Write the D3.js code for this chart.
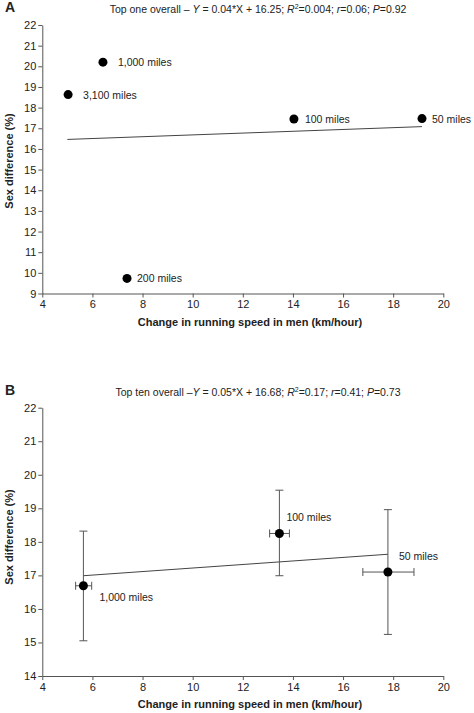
<!DOCTYPE html>
<html>
<head>
<meta charset="utf-8">
<script src="https://cdn.jsdelivr.net/npm/d3@7"></script>
<style>
  body { margin: 0; background: #fff; }
  svg { display: block; font-family: "Liberation Sans", Arial, sans-serif; }
</style>
</head>
<body>
<svg id="chart" width="474" height="713"></svg>
<script>
// panel A: top one overall
var aRaces = ["1,000 miles", "3,100 miles", "200 miles", "100 miles", "50 miles"];
var aSpeed = [6.42, 5.03, 7.38, 14.04, 19.15];
var aDiff = [20.2, 18.63, 9.73, 17.45, 17.47];
var aTrend = [[5.0, 16.46], [19.15, 17.08]];

// panel B: top ten overall (mean with error bars)
var bRaces = ["1,000 miles", "100 miles", "50 miles"];
var bSpeed = [5.64, 13.46, 17.79];
var bSpeedLo = [5.33, 13.07, 16.79];
var bSpeedHi = [5.97, 13.86, 18.83];
var bDiff = [16.69, 18.25, 17.1];
var bDiffLo = [15.05, 16.99, 15.24];
var bDiffHi = [18.32, 19.54, 18.96];
var bTrend = [[5.64, 16.99], [17.79, 17.63]];

var xTicks = [4, 6, 8, 10, 12, 14, 16, 18, 20];

var svg = d3.select("#chart");
var ink = "#222";
var axisCol = "#555";

function drawPanel(opt) {
  var x = d3.scaleLinear().domain([4, 20]).range([42.3, 443.3]);
  var y = d3.scaleLinear().domain(opt.yDomain).range([opt.bottom, opt.top]);
  var g = svg.append("g");

  var yAxis = d3.axisLeft(y).tickValues(d3.range(opt.yDomain[0], opt.yDomain[1] + 1))
    .tickSize(4).tickSizeOuter(0).tickPadding(2);
  var gy = g.append("g").attr("transform", "translate(42.3,0)").call(yAxis);
  var xAxis = d3.axisBottom(x).tickValues(xTicks).tickSize(4).tickSizeOuter(0).tickPadding(3);
  var gx = g.append("g").attr("transform", "translate(0," + opt.bottom + ")").call(xAxis);
  [gy, gx].forEach(function (a) {
    a.select(".domain").attr("stroke", axisCol);
    a.selectAll(".tick line").attr("stroke", axisCol);
    a.selectAll(".tick text").attr("fill", ink).style("font-size", "11px").style("font-family", "Liberation Sans, Arial, sans-serif");
  });

  // panel letter + title
  g.append("text").attr("x", 5).attr("y", opt.top - 13).attr("font-size", 14).attr("font-weight", "bold")
    .attr("fill", ink).text(opt.letter);
  var t = g.append("text").attr("x", 258).attr("y", opt.top - 12).attr("text-anchor", "middle")
    .attr("font-size", 10.5).attr("fill", ink);
  opt.title.forEach(function (p) {
    var s = t.append("tspan").text(p[0]);
    if (p[1] === "i") s.attr("font-style", "italic");
    if (p[1] === "sup") s.attr("font-size", 7).attr("dy", -4);
    if (p[1] === "after") s.attr("dy", 4);
  });

  g.append("text").attr("transform", "translate(13," + opt.labelY + ") rotate(-90)")
    .attr("text-anchor", "middle").attr("font-size", 11).attr("font-weight", "bold").attr("fill", ink)
    .text("Sex difference (%)");
  g.append("text").attr("x", 250).attr("y", opt.bottom + 32).attr("text-anchor", "middle")
    .attr("font-size", 11).attr("font-weight", "bold").attr("fill", ink)
    .text("Change in running speed in men (km/hour)");

  // trend line
  g.append("line").attr("x1", x(opt.trend[0][0])).attr("y1", y(opt.trend[0][1]))
    .attr("x2", x(opt.trend[1][0])).attr("y2", y(opt.trend[1][1]))
    .attr("stroke", "#444").attr("stroke-width", 1);

  return { g: g, x: x, y: y };
}

// ---- panel A
var A = drawPanel({
  letter: "A", top: 25, bottom: 293.5, yDomain: [9, 22], trend: aTrend, labelY: 161,
  title: [["Top one overall \u2013 "], ["Y", "i"], [" = 0.04*X + 16.25; "], ["R", "i"], ["2", "sup"],
    ["=0.004; ", "after"], ["r", "i"], ["=0.06; "], ["P", "i"], ["=0.92"]]
});
var aLabelDx = [15, 15, 10, 11, 10];
A.g.selectAll("circle.pt").data(aSpeed).join("circle").attr("class", "pt")
  .attr("cx", function (d) { return A.x(d); })
  .attr("cy", function (d, i) { return A.y(aDiff[i]); })
  .attr("r", 4.5).attr("fill", "#000");
A.g.selectAll("text.lbl").data(aRaces).join("text").attr("class", "lbl")
  .attr("x", function (d, i) { return A.x(aSpeed[i]) + aLabelDx[i]; })
  .attr("y", function (d, i) { return A.y(aDiff[i]) + 4; })
  .attr("font-size", 10.5).attr("fill", ink).text(function (d) { return d; });

// ---- panel B
var B = drawPanel({
  letter: "B", top: 407.7, bottom: 676, yDomain: [14, 22], trend: bTrend, labelY: 537,
  title: [["Top ten overall \u2013"], ["Y", "i"], [" = 0.05*X + 16.68; "], ["R", "i"], ["2", "sup"],
    ["=0.17; ", "after"], ["r", "i"], ["=0.41; "], ["P", "i"], ["=0.73"]]
});
var cap = 4;
var eb = B.g.selectAll("g.eb").data(bRaces).join("g").attr("class", "eb")
  .attr("stroke", "#555").attr("stroke-width", 1);
eb.append("path").attr("fill", "none").attr("d", function (d, i) {
  var cx = B.x(bSpeed[i]), y0 = B.y(bDiffLo[i]), y1 = B.y(bDiffHi[i]);
  return "M" + cx + "," + y0 + "V" + y1 +
    "M" + (cx - cap) + "," + y0 + "H" + (cx + cap) +
    "M" + (cx - cap) + "," + y1 + "H" + (cx + cap);
});
eb.append("path").attr("fill", "none").attr("d", function (d, i) {
  var cy = B.y(bDiff[i]), x0 = B.x(bSpeedLo[i]), x1 = B.x(bSpeedHi[i]);
  return "M" + x0 + "," + cy + "H" + x1 +
    "M" + x0 + "," + (cy - cap) + "V" + (cy + cap) +
    "M" + x1 + "," + (cy - cap) + "V" + (cy + cap);
});
B.g.selectAll("circle.pt").data(bSpeed).join("circle").attr("class", "pt")
  .attr("cx", function (d) { return B.x(d); })
  .attr("cy", function (d, i) { return B.y(bDiff[i]); })
  .attr("r", 4.5).attr("fill", "#000");
var bLabelOff = [[16, 15], [7, -12], [11, -12]];
B.g.selectAll("text.lbl").data(bRaces).join("text").attr("class", "lbl")
  .attr("x", function (d, i) { return B.x(bSpeed[i]) + bLabelOff[i][0]; })
  .attr("y", function (d, i) { return B.y(bDiff[i]) + bLabelOff[i][1]; })
  .attr("font-size", 10.5).attr("fill", ink).text(function (d) { return d; });
</script>
</body>
</html>
